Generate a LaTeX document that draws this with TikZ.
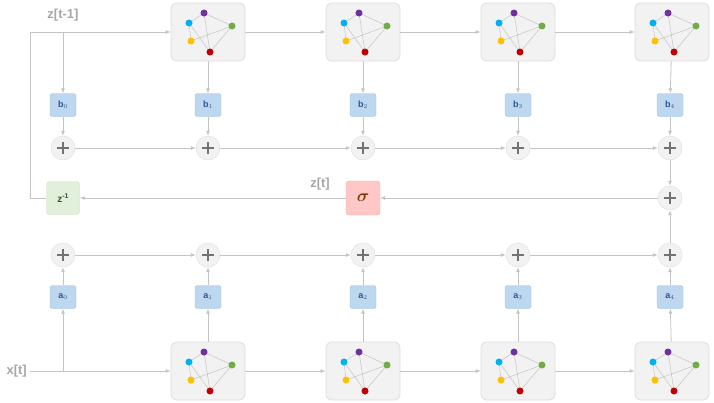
\documentclass[tikz,border=0pt]{standalone}
\usepackage{amsmath}
\usepackage{fontspec}
\setmainfont{Liberation Sans}
\usetikzlibrary{arrows.meta,calc}
\definecolor{ln}{HTML}{C4C4C4}
\definecolor{gb}{HTML}{F2F2F2}
\definecolor{gbd}{HTML}{DDDDDD}
\definecolor{bf}{HTML}{BDD7EE}
\definecolor{bd}{HTML}{9DC3E6}
\definecolor{bt}{HTML}{2F5597}
\definecolor{zf}{HTML}{E2EFDA}
\definecolor{zd}{HTML}{C5E0B4}
\definecolor{zt}{HTML}{375623}
\definecolor{sf}{HTML}{FFC7C7}
\definecolor{sd}{HTML}{F4B183}
\definecolor{st}{HTML}{843C0C}
\definecolor{lab}{HTML}{A6A6A6}
\definecolor{cP}{HTML}{7030A0}
\definecolor{cC}{HTML}{00B0F0}
\definecolor{cG}{HTML}{70AD47}
\definecolor{cY}{HTML}{FFC000}
\definecolor{cR}{HTML}{C00000}
\tikzset{
  gbox/.style={draw=gbd,fill=gb,rounded corners=6pt,minimum width=74pt,minimum height=58pt,line width=0.8pt},
  coef/.style={draw=bd,fill=bf,rounded corners=2.5pt,minimum width=26pt,minimum height=23pt,text=bt,font=\bfseries\fontsize{9}{9}\selectfont,inner sep=0pt},
  plusn/.style={circle,draw=gbd,fill=gb,minimum size=24pt,inner sep=0pt},
  conn/.style={draw=ln,line width=0.8pt,-{Latex[length=5pt,width=4pt]}},
  plain/.style={draw=ln,line width=0.8pt},
  lbl/.style={text=lab,font=\bfseries\fontsize{13}{13}\selectfont},
  dot/.style={circle,inner sep=0pt,minimum size=7pt},
  gedge/.style={draw=ln,line width=0.5pt}
}
\newcommand{\graphic}[2]{%
  \begin{scope}[shift={(#1,#2)}]
    \coordinate (gp) at (-4,-19);\coordinate (gc) at (-19,-9);\coordinate (gg) at (24,-6);
    \coordinate (gy) at (-17,9);\coordinate (gr) at (2,20);
    \draw[gedge] (gp)--(gc) (gp)--(gg) (gp)--(gr) (gc)--(gy) (gc)--(gr) (gy)--(gg) (gg)--(gr);
    \node[dot,fill=cP] at (gp) {};\node[dot,fill=cC] at (gc) {};\node[dot,fill=cG] at (gg) {};
    \node[dot,fill=cY] at (gy) {};\node[dot,fill=cR] at (gr) {};
  \end{scope}}
\newcommand{\plusmark}[1]{\draw[draw=gray!90!black,line width=1.1pt] ($(#1)+(-6,0)$)--($(#1)+(6,0)$) ($(#1)+(0,-6)$)--($(#1)+(0,6)$);}
\begin{document}
\begin{tikzpicture}[x=1pt,y=-1pt]
\useasboundingbox (0,0) rectangle (714,402);
\foreach \i/\x in {1/208,2/363,3/518,4/672}{
  \node[gbox] (T\i) at (\x,32) {};
  \node[gbox] (B\i) at (\x,371) {};
  \graphic{\x}{32}
  \graphic{\x}{371}
}
\foreach \i/\x in {0/63,1/208,2/363,3/518,4/670}{
  \node[coef] (b\i) at (\x,105) {b$_{\i}$};
  \node[coef] (a\i) at (\x,297) {a$_{\i}$};
  \node[plusn] (pt\i) at (\x,148) {};
  \node[plusn] (pb\i) at (\x,255) {};
}
\node[plusn] (pm) at (670,198) {};
\foreach \n in {pt0,pt1,pt2,pt3,pt4,pb0,pb1,pb2,pb3,pb4,pm}{\plusmark{\n}}
\node[draw=zd,fill=zf,rounded corners=3pt,minimum width=33pt,minimum height=33pt,text=zt,font=\bfseries\fontsize{10}{10}\selectfont] (zi) at (63,198) {z\raisebox{3.5pt}{\fontsize{7}{7}\selectfont -1}};
\node[draw=sd,fill=sf,rounded corners=3pt,minimum width=34pt,minimum height=34pt,text=st,font=\fontsize{16}{16}\selectfont] (sg) at (363,198) {$\boldsymbol{\sigma}$};
\node[lbl] (zl) at (63,15) {z[t-1]};
\node[lbl] (zt) at (320,184) {z[t]};
\node[lbl,anchor=west] (xl) at (3,371) {x[t]};
\coordinate (cz) at (30,32);
\coordinate (czl) at (30,198);
\coordinate (jz) at (63,32);
\coordinate (jx) at (63,371);
\draw[plain] (zi.west) -- (czl) -- (cz) -- (jz);
\draw[conn] (jz) -- (T1.west);
\draw[conn] (jz) -- (b0);
\draw[plain] (xl.east) -- (jx);
\draw[conn] (jx) -- (B1.west);
\draw[conn] (jx) -- (a0);
\foreach \a/\b in {1/2,2/3,3/4}{
  \draw[conn] (T\a) -- (T\b);
  \draw[conn] (B\a) -- (B\b);
}
\foreach \i in {1,2,3,4}{
  \draw[conn] (T\i) -- (b\i);
  \draw[conn] (B\i) -- (a\i);
}
\foreach \i in {0,1,2,3,4}{
  \draw[conn] (b\i) -- (pt\i);
  \draw[conn] (a\i) -- (pb\i);
}
\foreach \a/\b in {0/1,1/2,2/3,3/4}{
  \draw[conn] (pt\a) -- (pt\b);
  \draw[conn] (pb\a) -- (pb\b);
}
\draw[conn] (pt4) -- (pm);
\draw[conn] (pb4) -- (pm);
\draw[conn] (pm) -- (sg);
\draw[conn] (sg) -- (zi);
\end{tikzpicture}
\end{document}
